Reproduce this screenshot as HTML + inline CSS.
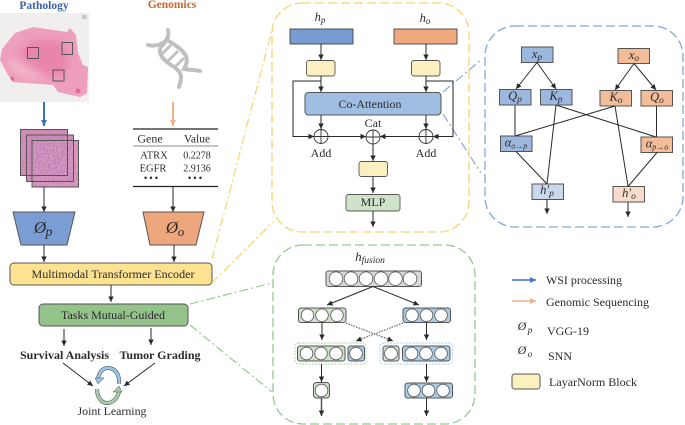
<!DOCTYPE html>
<html><head><meta charset="utf-8"><style>
html,body{margin:0;padding:0;background:#fff}
svg{display:block;filter:blur(.35px)}
text{font-family:"Liberation Serif","DejaVu Serif",serif;fill:#2b2b2b;text-anchor:middle}
.i{font-style:italic}
.l{text-anchor:start}
.ln{stroke:#2a2a2a;stroke-width:1;fill:none}
.c{fill:#fff;stroke:#555;stroke-width:.8}
</style></head><body>
<svg width="685" height="425" viewBox="0 0 685 425" xmlns="http://www.w3.org/2000/svg">
<defs>
<marker id="a" markerUnits="userSpaceOnUse" markerWidth="7" markerHeight="6" refX="5.500" refY="3" orient="auto"><path d="M0 .3L5.500 3L0 5.700Z" fill="#2a2a2a"/></marker>
<marker id="b" markerUnits="userSpaceOnUse" markerWidth="7" markerHeight="6" refX="6" refY="3" orient="auto"><path d="M0 0L6 3L0 6Z" fill="#3f70c0"/></marker>
<marker id="o" markerUnits="userSpaceOnUse" markerWidth="7" markerHeight="6" refX="6" refY="3" orient="auto"><path d="M0 0L6 3L0 6Z" fill="#f2b08c"/></marker>
<filter id="t" x="0" y="0" width="100%" height="100%"><feTurbulence type="fractalNoise" baseFrequency=".6" numOctaves="2" seed="4"/><feColorMatrix values="0 0 0 0 .42  0 0 0 0 .22  0 0 0 0 .5  0 0 0 3 -1.200"/></filter>
<filter id="s" x="-20%" y="-20%" width="140%" height="140%"><feGaussianBlur stdDeviation="4"/></filter>
<clipPath id="tc"><path d="M0 60L2 49L15 33L33 27L67 32L70 28L76 35L78 53L83 65L88 67L87 93L80 97L58 92L53 85L40 84L13 82L8 75Z"/></clipPath>
</defs>

<!-- WSI -->
<rect x="0" y="13" width="89" height="89" fill="#f1efed"/>
<rect x="82" y="15" width="5" height="4" fill="#c8c8c8"/>
<path d="M0 60L2 49L15 33L33 27L67 32L70 28L76 35L78 53L83 65L88 67L87 93L80 97L58 92L53 85L40 84L13 82L8 75Z" fill="#ee9fbd"/>
<g clip-path="url(#tc)">
<path d="M18 52L32 40L60 40L70 54L64 76L48 76L28 64Z" fill="#e985ab" filter="url(#s)"/>
<path d="M8 66L24 76L44 80L28 70L12 60Z" fill="#f3bdd0" filter="url(#s)"/>
<circle cx="78" cy="91" r="2.500" fill="#df6a94"/>
<circle cx="12" cy="79" r="2" fill="#e0628f"/>
</g>
<rect x="27.500" y="47.500" width="11" height="11" fill="none" stroke="#555" stroke-width="1"/>
<rect x="62" y="42.500" width="10.500" height="12" fill="none" stroke="#555" stroke-width="1"/>
<rect x="53" y="70" width="11" height="11" fill="none" stroke="#555" stroke-width="1"/>
<text x="44" y="9" font-size="11.500" font-weight="bold" style="fill:#3a62a8">Pathology</text>
<text x="172" y="8" font-size="11.500" font-weight="bold" style="fill:#c8662c">Genomics</text>

<!-- DNA -->
<g fill="none" stroke="#c0c0c0" stroke-width="4" stroke-linecap="round">
<path d="M168 30C170 37 165 42 161 47C158 52 161 57 167 62C173 67 181 70 181 77C181 81 180 84 179 87"/>
<path d="M148 45C155 47 162 44 167 40C174 44 183 50 186 56C188 61 186 65 184 69C190 70 196 70 200 71"/>
<path d="M170 46L162 54M177 52L168 61M183 59L175 67" stroke-width="3"/>
</g>

<!-- arrows top -->
<line x1="44" y1="102" x2="44" y2="126" stroke="#3f70c0" stroke-width="2" marker-end="url(#b)"/>
<line x1="173" y1="102" x2="173" y2="126" stroke="#f2b08c" stroke-width="2" marker-end="url(#o)"/>

<!-- patches -->
<g stroke="#555" stroke-width="1">
<rect x="20.500" y="129.500" width="47" height="46" fill="#d98fb5"/>
<rect x="26.500" y="135" width="47" height="46.500" fill="#d98fb5"/>
<rect x="32" y="140.500" width="46.500" height="46.500" fill="#e09abb"/>
</g>
<rect x="21" y="130" width="46" height="45" filter="url(#t)" opacity=".6"/>
<rect x="27" y="135.500" width="46" height="46" filter="url(#t)" opacity=".6"/>
<rect x="32.500" y="141" width="45.500" height="45.500" filter="url(#t)" opacity=".7"/>
<g fill="none" stroke="#555" stroke-width="1">
<rect x="20.500" y="129.500" width="47" height="46"/>
<rect x="26.500" y="135" width="47" height="46.500"/>
<rect x="32" y="140.500" width="46.500" height="46.500"/>
</g>

<!-- table -->
<line x1="133" y1="129" x2="218" y2="129" stroke="#222" stroke-width="1.200"/>
<line x1="133" y1="146" x2="218" y2="146" stroke="#888" stroke-width="1"/>
<line x1="133" y1="186.500" x2="218" y2="186.500" stroke="#222" stroke-width="1.200"/>
<text x="150" y="142.500" font-size="12">Gene</text>
<text x="197" y="142.500" font-size="11.500">Value</text>
<text x="154" y="158.500" font-size="10.500">ATRX</text>
<text x="197" y="158.500" font-size="10">0.2278</text>
<text x="153" y="171.500" font-size="10.500">EGFR</text>
<text x="197" y="171.500" font-size="10">2.9136</text>
<text x="151" y="181" font-size="9" font-weight="bold">• • •</text>
<text x="195" y="181" font-size="9" font-weight="bold">• • •</text>

<line x1="44" y1="187" x2="44" y2="212" class="ln" marker-end="url(#a)"/>
<line x1="173" y1="187" x2="173" y2="212" class="ln" marker-end="url(#a)"/>

<!-- encoders -->
<path d="M13 212H75L67 245H21Z" fill="#7a9ed3" stroke="#555" stroke-width="1"/>
<path d="M143 212H204L196 245H150Z" fill="#eea77c" stroke="#555" stroke-width="1"/>
<text x="40" y="233" font-size="17" class="i">Ø</text><text x="49" y="236" font-size="14" class="i">p</text>
<text x="172" y="233" font-size="17" class="i">Ø</text><text x="181" y="236" font-size="13" class="i">o</text>
<line x1="44" y1="245" x2="44" y2="262" class="ln" marker-end="url(#a)"/>
<line x1="174" y1="245" x2="174" y2="262" class="ln" marker-end="url(#a)"/>

<rect x="10" y="263" width="202" height="22" rx="4" fill="#fde28f" stroke="#555" stroke-width="1"/>
<text x="113" y="278" font-size="12" textLength="163" lengthAdjust="spacingAndGlyphs">Multimodal Transformer Encoder</text>
<line x1="111" y1="285" x2="111" y2="302" class="ln" marker-end="url(#a)"/>
<rect x="39" y="304" width="149" height="22" rx="4" fill="#93c28b" stroke="#555" stroke-width="1"/>
<text x="113" y="319" font-size="12" textLength="104" lengthAdjust="spacingAndGlyphs">Tasks Mutual-Guided</text>
<line x1="64" y1="329" x2="64" y2="346" class="ln" marker-end="url(#a)"/>
<line x1="151" y1="328" x2="151" y2="345" class="ln" marker-end="url(#a)"/>
<text x="64.500" y="359" font-size="11.500" font-weight="bold" textLength="89" lengthAdjust="spacingAndGlyphs">Survival Analysis</text>
<text x="160" y="359" font-size="11.500" font-weight="bold" textLength="81" lengthAdjust="spacingAndGlyphs">Tumor Grading</text>
<line x1="63" y1="363" x2="93" y2="386" class="ln" marker-end="url(#a)"/>
<line x1="155" y1="363" x2="124" y2="386" class="ln" marker-end="url(#a)"/>

<!-- cycle -->
<path d="M119 384C120 372 113 368 108 368C103 368 99 372 98 379" fill="none" stroke="#4a5a66" stroke-width="4"/>
<path d="M119 384C120 372 113 368 108 368C103 368 99 372 98 379" fill="none" stroke="#9cc6e2" stroke-width="2.800"/>
<path d="M95 378L104 378L98 384Z" fill="#9cc6e2" stroke="#445" stroke-width=".5"/>
<path d="M97 389C97 398 102 403 107 403C113 403 118 398 119 391" fill="none" stroke="#4c5c50" stroke-width="4"/>
<path d="M97 389C97 398 102 403 107 403C113 403 118 398 119 391" fill="none" stroke="#abcbae" stroke-width="2.800"/>
<path d="M122 392L113 392L119 386Z" fill="#abcbae" stroke="#454" stroke-width=".5"/>
<text x="112" y="415" font-size="12" textLength="69" lengthAdjust="spacingAndGlyphs">Joint Learning</text>

<!-- dash-dot links -->
<g fill="none" stroke-width="1.100" stroke-dasharray="9 3 2 3">
<line x1="212" y1="259" x2="272" y2="30" stroke="#f7cf63"/>
<line x1="212" y1="283" x2="273" y2="222" stroke="#f7cf63"/>
<line x1="190" y1="304" x2="272" y2="283" stroke="#8fc58a"/>
<line x1="190" y1="325" x2="272" y2="392" stroke="#8fc58a"/>
<line x1="443" y1="92" x2="481" y2="60" stroke="#7fa3d6"/>
<line x1="443" y1="114" x2="481" y2="173" stroke="#7fa3d6"/>
</g>

<!-- yellow panel -->
<rect x="272" y="3" width="197" height="229" rx="30" fill="none" stroke="#f8d370" stroke-width="1.300" stroke-dasharray="9 4"/>
<text x="320" y="21" font-size="12.500" class="i">h<tspan font-size="9" dy="2">p</tspan></text>
<text x="425" y="22" font-size="12.500" class="i">h<tspan font-size="9" dy="2">o</tspan></text>
<rect x="290" y="29" width="63" height="15" fill="#779cd2" stroke="#444" stroke-width=".9"/>
<rect x="394" y="29" width="63" height="15" fill="#f0a97e" stroke="#444" stroke-width=".9"/>
<line x1="321" y1="44" x2="321" y2="60" class="ln" marker-end="url(#a)"/>
<line x1="426" y1="44" x2="426" y2="60" class="ln" marker-end="url(#a)"/>
<rect x="306.500" y="60.500" width="28.500" height="15.500" rx="2.500" fill="#fdf0c0" stroke="#555" stroke-width=".9"/>
<rect x="411.500" y="60.500" width="28.500" height="15.500" rx="2.500" fill="#fdf0c0" stroke="#555" stroke-width=".9"/>
<line x1="321" y1="76" x2="321" y2="92" class="ln" marker-end="url(#a)"/>
<line x1="426" y1="76" x2="426" y2="92" class="ln" marker-end="url(#a)"/>
<path d="M321 81H293V136.500H314" class="ln" marker-end="url(#a)"/>
<path d="M426 81H453V136.500H433" class="ln" marker-end="url(#a)"/>
<rect x="305" y="92.500" width="136" height="22.500" rx="3.500" fill="#a0bde2" stroke="#555" stroke-width="1"/>
<text x="370" y="108" font-size="12" textLength="63" lengthAdjust="spacingAndGlyphs">Co-Attention</text>
<line x1="321" y1="115" x2="321" y2="129" class="ln" marker-end="url(#a)"/>
<line x1="426" y1="115" x2="426" y2="129" class="ln" marker-end="url(#a)"/>
<line x1="328" y1="136.500" x2="366" y2="136.500" class="ln" marker-end="url(#a)"/>
<line x1="419" y1="136.500" x2="380" y2="136.500" class="ln" marker-end="url(#a)"/>
<g fill="#fff" stroke="#333" stroke-width=".9">
<circle cx="321" cy="136.500" r="7"/><circle cx="373" cy="137" r="7"/><circle cx="426" cy="136.500" r="7"/>
<path d="M314 136.500H328M321 129.500V143.500M366 137H380M373 130V144M419 136.500H433M426 129.500V143.500"/>
</g>
<text x="373" y="127" font-size="12">Cat</text>
<text x="321" y="157" font-size="12">Add</text>
<text x="426" y="157" font-size="12">Add</text>
<line x1="373" y1="144" x2="373" y2="161" class="ln" marker-end="url(#a)"/>
<rect x="359" y="161.500" width="28.500" height="15" rx="2.500" fill="#fdf0c0" stroke="#555" stroke-width=".9"/>
<line x1="373" y1="177" x2="373" y2="193" class="ln" marker-end="url(#a)"/>
<rect x="346" y="194.500" width="54" height="16.500" rx="2.500" fill="#cfe3cb" stroke="#555" stroke-width=".9"/>
<text x="373" y="206" font-size="12">MLP</text>
<line x1="373" y1="211" x2="373" y2="227" class="ln" marker-end="url(#a)"/>

<!-- blue panel -->
<rect x="485" y="26" width="198" height="201" rx="30" fill="none" stroke="#82a7da" stroke-width="1.300" stroke-dasharray="9 4"/>
<g stroke="#555" stroke-width="1">
<rect x="521.500" y="47" width="31.500" height="15.500" fill="#9db8df"/>
<rect x="618" y="48.500" width="31.500" height="15" fill="#f3bd9a"/>
<rect x="499.500" y="89.500" width="31.500" height="15.500" fill="#9db8df"/>
<rect x="540.500" y="89.500" width="31.500" height="15.500" fill="#9db8df"/>
<rect x="600" y="90.500" width="31.500" height="15.500" fill="#f3bd9a"/>
<rect x="641" y="90.500" width="31.500" height="15.500" fill="#f3bd9a"/>
<rect x="500.500" y="136" width="31.500" height="15.500" fill="#9db8df"/>
<rect x="641" y="137" width="31.500" height="15.500" fill="#f3bd9a"/>
<rect x="532" y="184" width="31.500" height="15.500" fill="#c9d8ed"/>
<rect x="613" y="186.500" width="31.500" height="15.500" fill="#f8dccb"/>
</g>
<line x1="537" y1="62.500" x2="516" y2="89" class="ln" marker-end="url(#a)"/>
<line x1="537" y1="62.500" x2="556" y2="89" class="ln" marker-end="url(#a)"/>
<line x1="634" y1="63.500" x2="615" y2="90" class="ln" marker-end="url(#a)"/>
<line x1="634" y1="63.500" x2="656" y2="90" class="ln" marker-end="url(#a)"/>
<line x1="515" y1="105" x2="515" y2="136" stroke="#666" stroke-width="1.400"/>
<line x1="656.500" y1="106" x2="656.500" y2="137" class="ln"/>
<line x1="556" y1="105" x2="547" y2="184" class="ln"/>
<line x1="615" y1="106" x2="628" y2="186" class="ln"/>
<line x1="515" y1="136" x2="615" y2="106" class="ln"/>
<line x1="556" y1="105" x2="656" y2="137" class="ln"/>
<line x1="516" y1="151.500" x2="547" y2="184" class="ln"/>
<line x1="657" y1="152.500" x2="628" y2="186.500" class="ln"/>
<line x1="547" y1="199.500" x2="547" y2="214" class="ln" marker-end="url(#a)"/>
<line x1="628" y1="202" x2="628" y2="217" class="ln" marker-end="url(#a)"/>
<g font-size="12.500" class="i">
<text x="537" y="58" class="i">x<tspan font-size="9.500" dy="2">p</tspan></text>
<text x="634" y="59" class="i">x<tspan font-size="9.500" dy="2">o</tspan></text>
<text x="515" y="100" class="i">Q<tspan font-size="9.500" dy="2">p</tspan></text>
<text x="556" y="100" class="i">K<tspan font-size="9.500" dy="2">p</tspan></text>
<text x="616" y="101" class="i">K<tspan font-size="9.500" dy="2">o</tspan></text>
<text x="657" y="101" class="i">Q<tspan font-size="9.500" dy="2">o</tspan></text>
<text x="516" y="146.500" class="i">α<tspan font-size="8" dy="2">o→p</tspan></text>
<text x="657" y="147.500" class="i">α<tspan font-size="8" dy="2">p→o</tspan></text>
<text x="547" y="194" class="i">h′<tspan font-size="9.500" dy="2">p</tspan></text>
<text x="629" y="197" class="i">h′<tspan font-size="9.500" dy="2">o</tspan></text>
</g>

<!-- green panel -->
<rect x="273" y="245" width="202" height="179" rx="30" fill="none" stroke="#93c98e" stroke-width="1.300" stroke-dasharray="9 4"/>
<text x="370" y="261" font-size="13" class="i">h<tspan font-size="9.500" dy="2">fusion</tspan></text>
<rect x="326" y="271" width="95.500" height="15.500" rx="2.500" fill="#d8d8d8" stroke="#555" stroke-width="1"/>
<circle class="c" cx="336" cy="278.700" r="6.800"/><circle class="c" cx="351" cy="278.700" r="6.800"/><circle class="c" cx="366" cy="278.700" r="6.800"/><circle class="c" cx="381" cy="278.700" r="6.800"/><circle class="c" cx="395.500" cy="278.700" r="6.800"/><circle class="c" cx="410" cy="278.700" r="6.800"/>
<line x1="373" y1="286.500" x2="327" y2="305" class="ln" marker-end="url(#a)"/>
<line x1="373" y1="286.500" x2="419" y2="305" class="ln" marker-end="url(#a)"/>

<rect x="298.500" y="308" width="47.500" height="14.500" rx="2.500" fill="#cde0c8" stroke="#555" stroke-width="1"/>
<rect x="403" y="308" width="47.500" height="14.500" rx="2.500" fill="#a9cbe8" stroke="#555" stroke-width="1"/>
<circle class="c" cx="307.500" cy="315.300" r="6.300"/><circle class="c" cx="322" cy="315.300" r="6.300"/><circle class="c" cx="337" cy="315.300" r="6.300"/>
<circle class="c" cx="412" cy="315.300" r="6.300"/><circle class="c" cx="426.500" cy="315.300" r="6.300"/><circle class="c" cx="441" cy="315.300" r="6.300"/>
<line x1="322" y1="322.500" x2="322" y2="340" class="ln" marker-end="url(#a)"/>
<line x1="426.500" y1="322.500" x2="426.500" y2="340" class="ln" marker-end="url(#a)"/>
<line x1="346" y1="323" x2="393" y2="341" stroke="#444" stroke-width="1" stroke-dasharray="1.500 1.200" marker-end="url(#a)"/>
<line x1="403" y1="323" x2="356" y2="341" stroke="#444" stroke-width="1" stroke-dasharray="1.500 1.200" marker-end="url(#a)"/>

<rect x="295" y="343" width="71" height="21" rx="3.500" fill="none" stroke="#a5d3a0" stroke-width=".9" stroke-dasharray="2 1.200"/>
<rect x="380" y="343" width="72.500" height="21" rx="3.500" fill="none" stroke="#a9cdea" stroke-width=".9" stroke-dasharray="2 1.200"/>
<rect x="297.500" y="346" width="47.500" height="15" rx="2.500" fill="#cde0c8" stroke="#555" stroke-width="1"/>
<rect x="348" y="346" width="16.500" height="15" rx="2.500" fill="#a9cbe8" stroke="#555" stroke-width="1"/>
<rect x="383" y="346" width="16" height="15" rx="2.500" fill="#cde0c8" stroke="#555" stroke-width="1"/>
<rect x="402.500" y="346" width="47.500" height="15" rx="2.500" fill="#a9cbe8" stroke="#555" stroke-width="1"/>
<circle class="c" cx="306.500" cy="353.500" r="6.300"/><circle class="c" cx="321" cy="353.500" r="6.300"/><circle class="c" cx="336" cy="353.500" r="6.300"/><circle class="c" cx="356" cy="353.500" r="6.300"/>
<circle class="c" cx="391" cy="353.500" r="6.300"/><circle class="c" cx="411.500" cy="353.500" r="6.300"/><circle class="c" cx="426" cy="353.500" r="6.300"/><circle class="c" cx="441" cy="353.500" r="6.300"/>
<line x1="321.500" y1="364" x2="321.500" y2="382" class="ln" marker-end="url(#a)"/>
<line x1="426.500" y1="364" x2="426.500" y2="382" class="ln" marker-end="url(#a)"/>
<rect x="313.500" y="382.500" width="16" height="15.500" rx="3" fill="#cde0c8" stroke="#555" stroke-width="1"/>
<rect x="405" y="383" width="47.500" height="15" rx="2.500" fill="#a9cbe8" stroke="#555" stroke-width="1"/>
<circle class="c" cx="321.500" cy="390.500" r="6.300"/>
<circle class="c" cx="414" cy="390.500" r="6.300"/><circle class="c" cx="428.500" cy="390.500" r="6.300"/><circle class="c" cx="443" cy="390.500" r="6.300"/>
<line x1="321.500" y1="398" x2="321.500" y2="416" stroke="#555" stroke-width="1.500" marker-end="url(#a)"/>
<line x1="426.500" y1="398" x2="426.500" y2="416" class="ln" marker-end="url(#a)"/>

<!-- legend -->
<line x1="512" y1="280" x2="536" y2="280" stroke="#3f70c0" stroke-width="1.600" marker-end="url(#b)"/>
<line x1="512" y1="301" x2="536" y2="301" stroke="#f2b08c" stroke-width="1.600" marker-end="url(#o)"/>
<text x="546" y="284" font-size="12" class="l" textLength="76" lengthAdjust="spacingAndGlyphs">WSI processing</text>
<text x="546" y="306" font-size="12" class="l" textLength="103" lengthAdjust="spacingAndGlyphs">Genomic Sequencing</text>
<text x="522" y="330" font-size="12" class="i">Ø</text><text x="530" y="333" font-size="9" class="i">p</text>
<text x="547" y="335" font-size="12" class="l" textLength="42" lengthAdjust="spacingAndGlyphs">VGG-19</text>
<text x="522" y="354" font-size="12" class="i">Ø</text><text x="530" y="357" font-size="9" class="i">o</text>
<text x="548" y="360" font-size="12" class="l" textLength="24" lengthAdjust="spacingAndGlyphs">SNN</text>
<rect x="512" y="374" width="28" height="15" rx="2.500" fill="#fdf0c0" stroke="#555" stroke-width="1"/>
<text x="549" y="386" font-size="12" class="l" textLength="88" lengthAdjust="spacingAndGlyphs">LayarNorm Block</text>
</svg>
</body></html>
